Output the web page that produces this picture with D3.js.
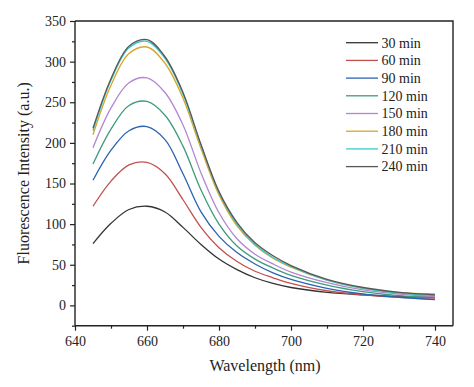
<!DOCTYPE html>
<html>
<head>
<meta charset="utf-8">
<script src="https://cdn.jsdelivr.net/npm/d3@7"></script>
<style>
  html, body { margin: 0; padding: 0; background: #fff; }
  svg { display: block; }
  text { font-family: "Liberation Serif", "Times New Roman", Tinos, serif; fill: #222; }
</style>
</head>
<body>
<svg id="chart" width="474" height="387"></svg>
<script>
// ---- data ----
const wavelengths = [645, 650, 655, 660, 665, 670, 675, 680, 685, 690, 695, 700, 710, 720, 730, 740];
const seriesLabels = ["30 min", "60 min", "90 min", "120 min", "150 min", "180 min", "210 min", "240 min"];
const min30  = [76, 101, 118, 122, 115, 96, 75, 57, 44, 34, 27, 22, 16, 13, 11, 10];
const min60  = [122, 153, 173, 176, 162, 130, 96, 71, 54, 42, 34, 27, 18, 13, 10, 9];
const min90  = [154, 191, 215, 220, 204, 162, 115, 85, 65, 51, 40, 32, 21, 14, 10, 7];
const min120 = [174, 217, 246, 251, 234, 196, 142, 100, 73, 57, 46, 37, 25, 17, 12, 10];
const min150 = [194, 243, 274, 280, 262, 222, 163, 114, 82, 63, 51, 41, 28, 19, 14, 11];
const min180 = [210, 271, 310, 318, 298, 255, 193, 136, 98, 74, 58, 47, 31, 21, 16, 14];
const min210 = [215, 277, 317, 325, 304, 260, 197, 139, 100, 75, 59, 48, 31, 21, 15, 12];
const min240 = [218, 279, 319, 327, 306, 262, 198, 140, 102, 77, 61, 49, 32, 22, 16, 13];
const seriesValues = [min30, min60, min90, min120, min150, min180, min210, min240];
const seriesColors = ["#333333", "#c4504e", "#2c63b0", "#3f9b7a", "#b386d4", "#d9a52a", "#3cc8c8", "#5a5656"];
const xTicks = [640, 660, 680, 700, 720, 740];
const xMinorTicks = [650, 670, 690, 710, 730];
const yTicks = [0, 50, 100, 150, 200, 250, 300, 350];
const yMinorTicks = [-25, 25, 75, 125, 175, 225, 275, 325];

// ---- layout ----
const svg = d3.select("#chart");
const L = 75, R = 453, T = 21, B = 325.7;
const x = d3.scaleLinear().domain([640, 745]).range([L, R]);
const y = d3.scaleLinear().domain([-25, 350]).range([B, T]);

// lines
const line = d3.line()
  .x((d, i) => x(wavelengths[i]))
  .y(d => y(d))
  .curve(d3.curveCatmullRom.alpha(0.5));

const gLines = svg.append("g");
seriesValues.forEach((vals, k) => {
  gLines.append("path")
    .attr("d", line(vals))
    .attr("fill", "none")
    .attr("stroke", seriesColors[k])
    .attr("stroke-width", 1.3);
});

// frame (top/right)
svg.append("path")
  .attr("d", `M${L},${T}H${R}V${B}`)
  .attr("fill", "none").attr("stroke", "#222").attr("stroke-width", 1.4);

// axes
const xAxis = svg.append("g").attr("transform", `translate(0,${B})`)
  .call(d3.axisBottom(x).tickValues(xTicks).tickSize(5).tickPadding(5).tickFormat(d3.format("d")));
const xMinor = svg.append("g").attr("transform", `translate(0,${B})`)
  .call(d3.axisBottom(x).tickValues(xMinorTicks).tickSize(3).tickFormat(""));
const yAxis = svg.append("g").attr("transform", `translate(${L},0)`)
  .call(d3.axisLeft(y).tickValues(yTicks).tickSize(5).tickPadding(4).tickFormat(d3.format("d")));
const yMinor = svg.append("g").attr("transform", `translate(${L},0)`)
  .call(d3.axisLeft(y).tickValues(yMinorTicks).tickSize(3).tickFormat(""));

[xMinor, yMinor].forEach(g => g.select(".domain").remove());
[xAxis, yAxis, xMinor, yMinor].forEach(g => {
  g.selectAll("line").attr("stroke", "#222").attr("stroke-width", 1.2);
  g.select(".domain").attr("stroke", "#222").attr("stroke-width", 1.4);
  g.selectAll("text").attr("font-size", 14).attr("fill", "#222");
});
xAxis.select(".domain").attr("d", `M${L},0H${R}`);
yAxis.select(".domain").attr("d", `M0,${B}V${T}`);

// axis titles
svg.append("text")
  .attr("x", (L + R) / 2 + 1).attr("y", 371)
  .attr("text-anchor", "middle").attr("font-size", 16)
  .text("Wavelength (nm)");
svg.append("text")
  .attr("transform", `translate(29,${(T + B) / 2}) rotate(-90)`)
  .attr("text-anchor", "middle").attr("font-size", 16)
  .text("Fluorescence Intensity (a.u.)");

// legend
const lg = svg.append("g");
seriesLabels.forEach((lab, k) => {
  const yy = 42.7 + k * 17.7;
  lg.append("line").attr("x1", 346).attr("x2", 378).attr("y1", yy).attr("y2", yy)
    .attr("stroke", seriesColors[k]).attr("stroke-width", 1.3);
  lg.append("text").attr("x", 381.5).attr("y", yy + 4.8).attr("font-size", 14).text(lab);
});
</script>
</body>
</html>
